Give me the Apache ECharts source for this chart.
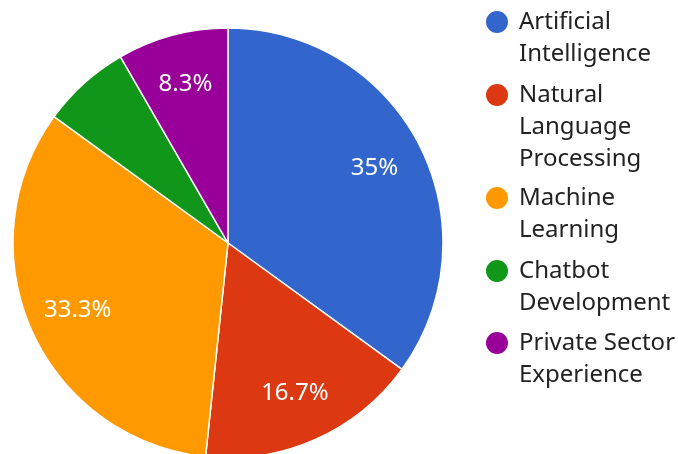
<!DOCTYPE html>
<html>
<head>
<meta charset="utf-8">
<script src="https://cdn.jsdelivr.net/npm/echarts@6/dist/echarts.min.js"></script>
<style>
html, body { margin: 0; padding: 0; background: #fff; }
#chart { width: 678px; height: 454px; }
</style>
</head>
<body>
<div id="chart"></div>
<script>
var names = ["Artificial Intelligence", "Natural Language Processing", "Machine Learning", "Chatbot Development", "Private Sector Experience"];
var legendLines = [
	["Artificial", "Intelligence"],
	["Natural", "Language", "Processing"],
	["Machine", "Learning"],
	["Chatbot", "Development"],
	["Private Sector", "Experience"]
];
var values = [21, 10, 20, 4, 5];
var colors = ["#3366cc", "#dc3912", "#ff9900", "#109618", "#990099"];

var font = "Noto Sans",
	lineH = 32,
	cx = 228,
	cy = 243,
	r = 215,
	// first-line centres of the legend entries
	legendCentres = [22, 95, 198, 271, 343];

var chart = echarts.init(document.getElementById("chart"), null, { renderer: "canvas" });

var data = [], i;
for (i = 0; i < names.length; i++)
{
	data.push({ name: names[i], value: values[i], itemStyle: { color: colors[i] } });
}

// legend text is centred on the icon, so pad with empty lines above
// to bring the first line level with the icon
var legends = [];
for (i = 0; i < names.length; i++)
{
	var n = legendLines[i].length;
	legends.push({
		orient: "vertical",
		left: 484,
		top: legendCentres[i] - (2 * n - 1) * lineH / 2,
		padding: 0,
		icon: "circle",
		itemWidth: 24,
		itemHeight: 24,
		selectedMode: false,
		data: [names[i]],
		formatter: (function (lines) {
			return function () {
				var pad = [];
				for (var k = 0; k < lines.length - 1; k++) pad.push(" ");
				return pad.concat(lines).join("\n");
			};
		})(legendLines[i]),
		textStyle: {
			fontFamily: font,
			fontSize: 24,
			color: "#222222",
			lineHeight: lineH,
			padding: [0, 0, 0, 5]
		}
	});
}

function pctLabel(p) {
	if (p.percent < 7) return "";
	return (Math.round(p.percent * 10) / 10) + "%";
}

var option = {
	animation: false,
	backgroundColor: "#ffffff",
	legend: legends,
	series: [
		{
			type: "pie",
			center: [cx, cy],
			radius: [0, r],
			startAngle: 90,
			clockwise: true,
			silent: true,
			data: data,
			label: { show: false },
			labelLine: { show: false },
			itemStyle: { borderColor: "#ffffff", borderWidth: 1.5 },
			emphasis: { disabled: true }
		},
		{
			// transparent ring only used to place the percentage labels
			type: "pie",
			center: [cx, cy],
			radius: [108, r],
			startAngle: 90,
			clockwise: true,
			silent: true,
			data: data.map(function (d) {
				return { name: d.name, value: d.value, itemStyle: { color: "rgba(0,0,0,0)" } };
			}),
			itemStyle: { borderWidth: 0 },
			label: {
				show: true,
				position: "inside",
				formatter: pctLabel,
				color: "#ffffff",
				fontFamily: font,
				fontSize: 24
			},
			labelLine: { show: false },
			emphasis: { disabled: true }
		}
	]
};

chart.setOption(option);
</script>
</body>
</html>
